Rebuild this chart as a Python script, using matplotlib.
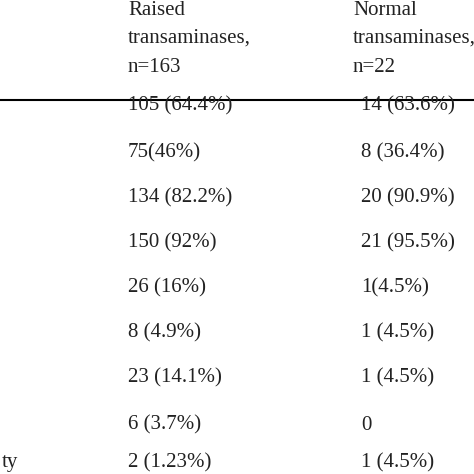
import matplotlib.pyplot as plt

header_raised = ["Raised", "transaminases,", "n=163"]
header_normal = ["Normal", "transaminases,", "n=22"]
raised = ["105 (64.4%)", "75(46%)", "134 (82.2%)", "150 (92%)", "26 (16%)",
          "8 (4.9%)", "23 (14.1%)", "6 (3.7%)", "2 (1.23%)"]
normal = ["14 (63.6%)", "8 (36.4%)", "20 (90.9%)", "21 (95.5%)", "1(4.5%)",
          "1 (4.5%)", "1 (4.5%)", "0", "1 (4.5%)"]
row_y = [106, 153, 198, 243, 288, 333, 378, 425, 463]
header_y = [10, 38, 67]

fig = plt.figure(figsize=(4.74, 4.74), dpi=100)
ax = fig.add_axes([0, 0, 1, 1])
ax.set_xlim(0, 474)
ax.set_ylim(474, 0)
ax.axis("off")

font = dict(family="Liberation Serif", fontsize=15, color="#222222", va="center")
for y, a, b in zip(header_y, header_raised, header_normal):
    ax.text(128, y, a, **font)
    ax.text(353, y, b, **font)
ax.plot([0, 474], [100, 100], color="black", lw=1.5)
for y, a, b in zip(row_y, raised, normal):
    ax.text(128, y, a, **font)
    ax.text(361, y, b, **font)
ax.text(2, row_y[-1], "ty", **font)

fig.savefig("out.png")
